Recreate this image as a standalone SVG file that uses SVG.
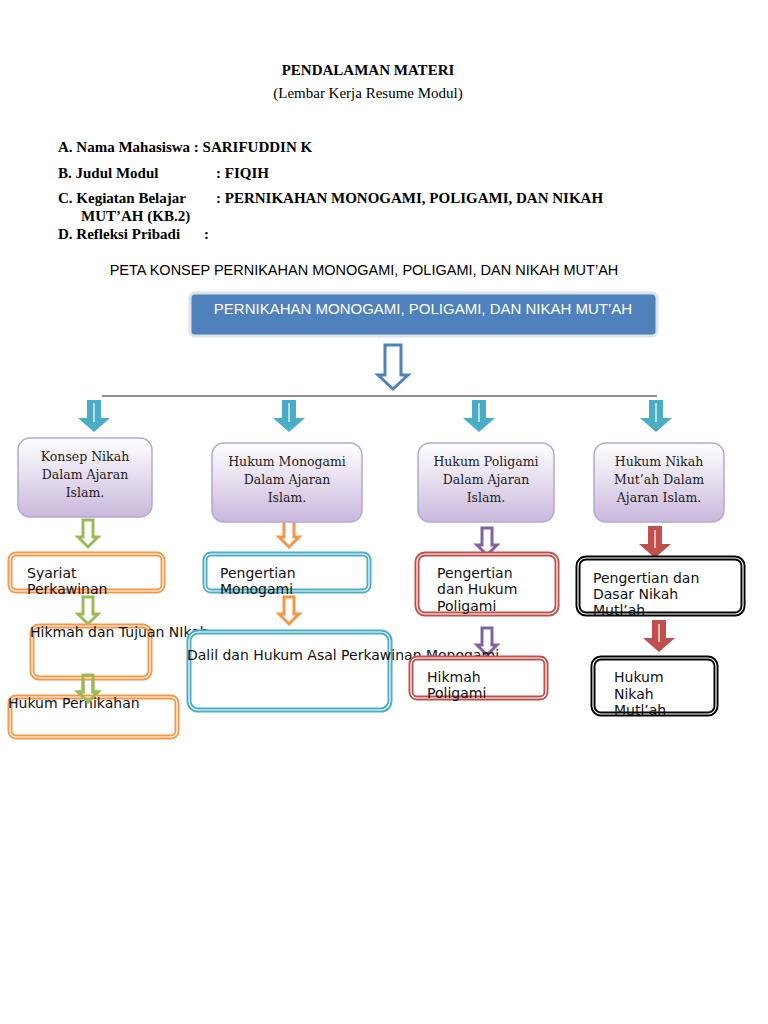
<svg xmlns="http://www.w3.org/2000/svg" width="768" height="1024" viewBox="0 0 768 1024">
<defs>
<linearGradient id="pg" x1="0" y1="0" x2="0" y2="1"><stop offset="0" stop-color="#ffffff"/><stop offset="1" stop-color="#c9b8dc"/></linearGradient>
<path id="fa" d="M-7,0 H7 V18 H16 L0,32 L-16,18 H-7 Z"/>
<path id="oa" d="M-5,0 H5 V17 H10 L0,27 L-10,17 H-5 Z"/>
</defs>
<style>
.h{font-family:"Liberation Serif",serif;font-size:15px;fill:#000}
.b{font-weight:bold}
.s{font-family:"DejaVu Sans",sans-serif;font-size:14px;fill:#111}
.ps{font-family:"DejaVu Serif",serif;font-size:12.5px;fill:#222;text-anchor:middle}
.pb{fill:url(#pg);stroke:#b7a6d2;stroke-width:1.5}
.slot{fill:none;stroke:#fff;stroke-width:1.2}
</style>
<rect width="768" height="1024" fill="#fff"/>
<g id="header">
<text class="h b" x="368" y="75" text-anchor="middle">PENDALAMAN MATERI</text>
<text class="h" x="368" y="98" text-anchor="middle">(Lembar Kerja Resume Modul)</text>
<text class="h b" x="58" y="152">A.  Nama Mahasiswa  : SARIFUDDIN K</text>
<text class="h b" x="58" y="178">B.  Judul Modul</text><text class="h b" x="216" y="178">: FIQIH</text>
<text class="h b" x="58" y="203">C.  Kegiatan Belajar</text><text class="h b" x="216" y="203">: PERNIKAHAN MONOGAMI, POLIGAMI, DAN NIKAH</text>
<text class="h b" x="81" y="221">MUT’AH (KB.2)</text>
<text class="h b" x="58" y="239">D.  Refleksi Pribadi</text><text class="h b" x="204" y="239">:</text>
<text x="364" y="275" text-anchor="middle" style="font-family:'Liberation Sans',sans-serif;font-size:14.5px">PETA KONSEP PERNIKAHAN MONOGAMI, POLIGAMI, DAN NIKAH MUT’AH</text>
</g>
<g id="title">
<rect x="190" y="293" width="467" height="43" rx="5" fill="#4f81bd" stroke="#dde3ea" stroke-width="3"/>
<text x="423" y="314" text-anchor="middle" style="font-family:'Liberation Sans',sans-serif;font-size:15px;fill:#fff">PERNIKAHAN MONOGAMI, POLIGAMI, DAN NIKAH MUT’AH</text>
</g>
<g id="connectors">
<path d="M385,345 H401 V375 H408 L393,389 L378,375 H385 Z" fill="#fff" stroke="#4f81bd" stroke-width="3"/>
<line x1="102" y1="396" x2="657" y2="396" stroke="#222" stroke-width="1.2"/>
<g fill="#4bacc6">
<use href="#fa" x="94" y="400"/><use href="#fa" x="289" y="400"/><use href="#fa" x="479" y="400"/><use href="#fa" x="656" y="400"/>
</g>
<g class="slot"><path d="M94,403 V422 M289,403 V422 M479,403 V422 M656,403 V422"/></g>
<g fill="#fff" stroke-width="3">
<use href="#oa" x="88" y="520" stroke="#9bbb59"/><use href="#oa" x="88" y="597" stroke="#9bbb59"/><use href="#oa" x="88" y="675" stroke="#9bbb59"/>
<use href="#oa" x="289" y="520" stroke="#f79646"/><use href="#oa" x="289" y="597" stroke="#f79646"/>
<use href="#oa" x="487" y="528" stroke="#8064a2"/><use href="#oa" x="487" y="628" stroke="#8064a2"/>
</g>
<g fill="#c0504d"><use href="#fa" x="655" y="526"/><use href="#fa" x="659" y="620"/></g>
<g class="slot"><path d="M655,530 V548 M659,624 V642"/></g>
</g>
<g id="konsep"><rect class="pb" x="18" y="438" width="134" height="79" rx="12"/>
<text class="ps" x="85" y="461">Konsep Nikah</text><text class="ps" x="85" y="479">Dalam Ajaran</text><text class="ps" x="85" y="497">Islam.</text></g>
<g id="monogami"><rect class="pb" x="212" y="443" width="150" height="79" rx="12"/>
<text class="ps" x="287" y="466">Hukum Monogami</text><text class="ps" x="287" y="484">Dalam Ajaran</text><text class="ps" x="287" y="502">Islam.</text></g>
<g id="poligami"><rect class="pb" x="418" y="443" width="136" height="79" rx="12"/>
<text class="ps" x="486" y="466">Hukum Poligami</text><text class="ps" x="486" y="484">Dalam Ajaran</text><text class="ps" x="486" y="502">Islam.</text></g>
<g id="mutah"><rect class="pb" x="594" y="443" width="130" height="79" rx="12"/>
<text class="ps" x="659" y="466">Hukum Nikah</text><text class="ps" x="659" y="484">Mut’ah Dalam</text><text class="ps" x="659" y="502">Ajaran Islam.</text></g>
<g id="syariat"><rect x="10" y="554" width="153" height="37" rx="6" fill="#fff" stroke="#f79646" stroke-width="5"/><rect x="10" y="554" width="153" height="37" rx="6" fill="none" stroke="#fff" stroke-width="1.2"/>
<text class="s" x="27" y="578">Syariat</text><text class="s" x="27" y="594">Perkawinan</text></g>
<g id="hikmah"><rect x="32" y="626" width="118" height="52" rx="7" fill="#fff" stroke="#f79646" stroke-width="5"/><rect x="32" y="626" width="118" height="52" rx="7" fill="none" stroke="#fff" stroke-width="1.2"/>
<text class="s" x="30" y="637">Hikmah dan Tujuan NIkah</text></g>
<g id="hukumpernikahan"><rect x="10" y="697" width="167" height="40" rx="6" fill="#fff" stroke="#f79646" stroke-width="5"/><rect x="10" y="697" width="167" height="40" rx="6" fill="none" stroke="#fff" stroke-width="1.2"/>
<text class="s" x="8" y="708">Hukum Pernikahan</text></g>
<use href="#oa" x="88" y="675" fill="none" stroke="#9bbb59" stroke-width="3"/>
<g id="pengmono"><rect x="205" y="554" width="164" height="37" rx="6" fill="#fff" stroke="#4bacc6" stroke-width="5"/><rect x="205" y="554" width="164" height="37" rx="6" fill="none" stroke="#fff" stroke-width="1.2"/>
<text class="s" x="220" y="578">Pengertian</text><text class="s" x="220" y="594">Monogami</text></g>
<g id="dalil"><rect x="189" y="632" width="201" height="78" rx="9" fill="#fff" stroke="#4bacc6" stroke-width="5"/><rect x="189" y="632" width="201" height="78" rx="9" fill="none" stroke="#fff" stroke-width="1.2"/>
<text class="s" x="187" y="660">Dalil dan Hukum Asal Perkawinan Monogami</text></g>
<g id="pengpoli"><rect x="417" y="554" width="140" height="60" rx="8" fill="#fff" stroke="#c0504d" stroke-width="5"/><rect x="417" y="554" width="140" height="60" rx="8" fill="none" stroke="#fff" stroke-width="1.2"/>
<text class="s" x="437" y="578">Pengertian</text><text class="s" x="437" y="594">dan Hukum</text><text class="s" x="437" y="611">Poligami</text></g>
<g id="hikmahpoli"><rect x="411" y="658" width="135" height="40" rx="6" fill="#fff" stroke="#c0504d" stroke-width="5"/><rect x="411" y="658" width="135" height="40" rx="6" fill="none" stroke="#fff" stroke-width="1.2"/>
<text class="s" x="427" y="682">Hikmah</text><text class="s" x="427" y="698">Poligami</text></g>
<g id="pengmutah"><rect x="578" y="558" width="165" height="56" rx="8" fill="#fff" stroke="#000" stroke-width="5"/><rect x="578" y="558" width="165" height="56" rx="8" fill="none" stroke="#fff" stroke-width="1.2"/>
<text class="s" x="593" y="583">Pengertian dan</text><text class="s" x="593" y="599">Dasar Nikah</text><text class="s" x="593" y="615">Mutl’ah</text></g>
<g id="hukummutah"><rect x="593" y="658" width="123" height="56" rx="8" fill="#fff" stroke="#000" stroke-width="5"/><rect x="593" y="658" width="123" height="56" rx="8" fill="none" stroke="#fff" stroke-width="1.2"/>
<text class="s" x="614" y="682">Hukum</text><text class="s" x="614" y="699">Nikah</text><text class="s" x="614" y="715">Mutl’ah</text></g>
</svg>
